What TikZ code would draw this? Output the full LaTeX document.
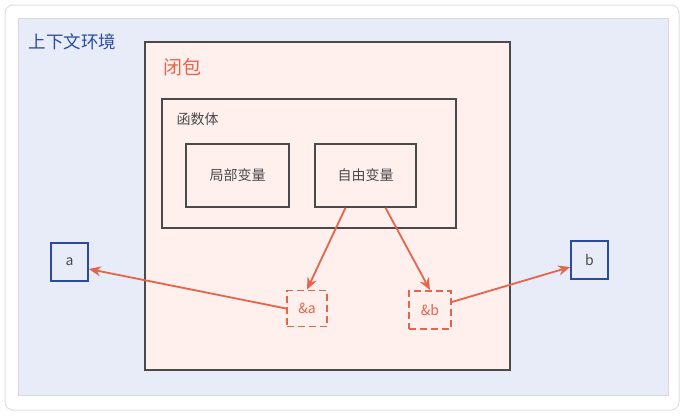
\documentclass[tikz,border=0pt]{standalone}
\usepackage{fontspec}
\newfontfamily\cjk{Noto Sans CJK SC}
\usetikzlibrary{arrows.meta}
\definecolor{bluetxt}{HTML}{2B4C9B}
\definecolor{redc}{HTML}{E5644A}
\definecolor{pinkbg}{HTML}{FFF0EE}
\definecolor{bluebg}{HTML}{E8ECF8}
\definecolor{darkb}{HTML}{4A4A4A}
\tikzset{
  box/.style={draw=darkb, line width=1.6pt, fill=pinkbg},
  varbox/.style={draw=darkb, line width=1.6pt, fill=pinkbg, minimum width=103pt, minimum height=63pt, font=\cjk\fontsize{14}{16}\selectfont, text=darkb},
  outbox/.style={draw=bluetxt, line width=1.6pt, fill=bluebg, minimum width=37pt, minimum height=38pt, font=\cjk\fontsize{14}{16}\selectfont, text=darkb},
  refbox/.style={draw=redc, dash pattern=on 7pt off 4pt, line width=1.8pt, fill=pinkbg, minimum width=40pt, minimum height=36pt, font=\cjk\fontsize{14}{16}\selectfont, text=redc},
  arr/.style={draw=redc, line width=1.8pt, -{Stealth[length=12pt,width=10pt]}}
}
\begin{document}
\begin{tikzpicture}[x=1pt,y=-1pt]
\useasboundingbox (0,0) rectangle (684,415);
\fill[white] (0,0) rectangle (684,415);
\draw[draw=black!12, line width=1pt, rounded corners=8pt, fill=white] (5,5) rectangle (679,410);
\draw[draw=black!15, fill=bluebg] (18,18) rectangle (668,395);
\node[anchor=west, text=bluetxt, font=\cjk\fontsize{17.5}{20}\selectfont] (ctx) at (25,42) {上下文环境};
\draw[box] (145,42) rectangle (510,370);
\node[anchor=west, text=redc, font=\cjk\fontsize{19}{22}\selectfont] (cl) at (160,67) {闭包};
\draw[box] (162,99) rectangle (456,228);
\node[anchor=west, text=darkb, font=\cjk\fontsize{14}{16}\selectfont] (fb) at (173,119) {函数体};
\node[varbox] (loc) at (237.5,175.5) {局部变量};
\node[varbox, minimum width=101pt] (free) at (365.5,175.5) {自由变量};
\node[outbox] (a) at (69.5,262) {a};
\node[outbox] (b) at (589.5,260) {b};
\node[refbox] (ra) at (307,308.5) {\&a};
\node[refbox, minimum width=42pt, minimum height=38pt] (rb) at (430,310) {\&b};
\draw[arr] ([xshift=-20pt]free.south) -- (ra.north);
\draw[arr] ([xshift=20pt]free.south) -- (rb.north);
\draw[arr] (ra.west) -- ([yshift=-7pt]a.east);
\draw[arr] ([yshift=8pt]rb.east) -- ([yshift=-7pt]b.west);
\end{tikzpicture}
\end{document}
